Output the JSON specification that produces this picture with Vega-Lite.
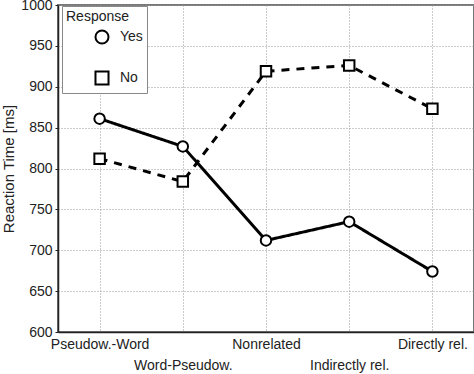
{
  "$schema": "https://vega.github.io/schema/vega-lite/v6.json",
  "autosize": "none",
  "width": 416,
  "height": 327,
  "padding": {"left": 58, "top": 5, "right": 0, "bottom": 42},
  "background": "white",
  "config": {
    "font": "Liberation Sans",
    "view": {"stroke": "#777777", "strokeWidth": 2},
    "axis": {
      "labelFont": "Liberation Sans",
      "labelFontSize": 14,
      "labelColor": "#222222",
      "titleFont": "Liberation Sans",
      "titleFontSize": 15,
      "titleFontWeight": "normal",
      "titleColor": "#222222",
      "domainColor": "#222222",
      "domainWidth": 1.5,
      "gridColor": "#999999",
      "gridDash": [1, 2],
      "gridWidth": 1,
      "tickColor": "#222222"
    }
  },
  "data": {
    "values": [
      {"Condition": "Pseudow.-Word", "Response": "Yes", "RT": 861},
      {"Condition": "Word-Pseudow.", "Response": "Yes", "RT": 827},
      {"Condition": "Nonrelated", "Response": "Yes", "RT": 712},
      {"Condition": "Indirectly rel.", "Response": "Yes", "RT": 735},
      {"Condition": "Directly rel.", "Response": "Yes", "RT": 674},
      {"Condition": "Pseudow.-Word", "Response": "No", "RT": 812},
      {"Condition": "Word-Pseudow.", "Response": "No", "RT": 784},
      {"Condition": "Nonrelated", "Response": "No", "RT": 919},
      {"Condition": "Indirectly rel.", "Response": "No", "RT": 926},
      {"Condition": "Directly rel.", "Response": "No", "RT": 873}
    ]
  },
  "encoding": {
    "x": {
      "field": "Condition",
      "type": "nominal",
      "sort": ["Pseudow.-Word", "Word-Pseudow.", "Nonrelated", "Indirectly rel.", "Directly rel."],
      "scale": {"type": "point", "padding": 0.5},
      "axis": {
        "title": null,
        "labelAngle": 0,
        "ticks": false,
        "labelPadding": 5,
        "labelOverlap": false,
        "labelBound": false,
        "labelFlush": false,
        "labelLineHeight": 21,
        "labelBaseline": "top",
        "labelExpr": "indexof(['Word-Pseudow.','Indirectly rel.'], datum.value) >= 0 ? ['', datum.label] : datum.label",
        "grid": true
      }
    },
    "y": {
      "field": "RT",
      "type": "quantitative",
      "scale": {"domain": [600, 1000], "nice": false, "zero": false},
      "axis": {
        "title": "Reaction Time [ms]",
        "values": [600, 650, 700, 750, 800, 850, 900, 950, 1000],
        "format": "d",
        "tickSize": 3,
        "labelPadding": 3,
        "titlePadding": 4,
        "grid": true
      }
    }
  },
  "layer": [
    {
      "mark": {"type": "line", "color": "black", "strokeWidth": 3},
      "encoding": {
        "detail": {"field": "Response", "type": "nominal"},
        "strokeDash": {
          "condition": {"test": "datum.Response === 'No'", "value": [8, 7]},
          "value": [1, 0]
        }
      }
    },
    {
      "mark": {"type": "point", "filled": true, "fill": "white", "stroke": "black", "strokeWidth": 2, "size": 110, "opacity": 1},
      "encoding": {
        "shape": {
          "field": "Response",
          "type": "nominal",
          "scale": {"domain": ["Yes", "No"], "range": ["circle", "square"]},
          "legend": {
            "orient": "none",
            "legendX": 4,
            "legendY": 1,
            "title": "Response",
            "titleFontSize": 14,
            "titleFontWeight": "normal",
            "titleColor": "#222222",
            "titlePadding": 5,
            "labelFontSize": 14,
            "labelColor": "#222222",
            "labelOffset": 10,
            "symbolSize": 170,
            "symbolOffset": 28,
            "symbolStrokeWidth": 2,
            "rowPadding": 19,
            "padding": 4,
            "fillColor": "white",
            "strokeColor": "#888888"
          }
        }
      }
    }
  ]
}
